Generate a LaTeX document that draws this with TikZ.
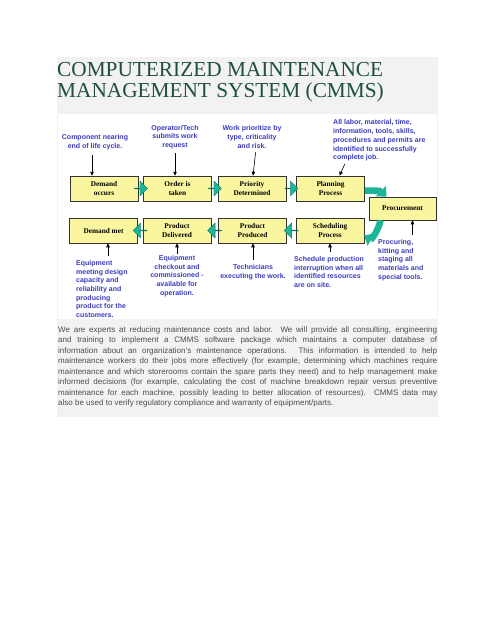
\documentclass[tikz,border=0pt]{standalone}
\usepackage{fontspec}
\setmainfont{Liberation Serif}
\setsansfont{Liberation Sans}
\usetikzlibrary{arrows.meta, positioning, shapes.arrows, calc}

\definecolor{titlegreen}{HTML}{1F4F3F}
\definecolor{boxyellow}{HTML}{FAF6A0}
\definecolor{flowteal}{HTML}{1DB597}
\definecolor{noteblue}{HTML}{3B3BC4}
\definecolor{bodygray}{HTML}{4D4D4D}
\definecolor{pagegray}{HTML}{F2F2F2}

\begin{document}
\begin{tikzpicture}[
        x=1pt, y=-1pt,
        stagebox/.style={
            rectangle, draw=black!80, line width=0.5pt, fill=boxyellow,
            minimum width=68pt, minimum height=25pt, inner sep=1pt,
            align=center, font=\rmfamily\bfseries\fontsize{7.3}{9}\selectfont
        },
        note/.style={
            align=center, text=noteblue, inner sep=0pt,
            font=\sffamily\bfseries\fontsize{7}{8.7}\selectfont
        },
        noteleft/.style={note, align=left},
        pointer/.style={-{Triangle[length=4pt, width=3.5pt]}, line width=0.6pt, black},
        flowright/.style={
            single arrow, draw=flowteal!60!black, fill=flowteal, line width=0.4pt,
            minimum height=13pt, minimum width=15pt,
            single arrow head extend=3.5pt, inner sep=0pt
        },
        flowleft/.style={flowright, minimum height=14pt, shape border rotate=180},
        bendflow/.style={-{Triangle[length=8pt, width=14pt]}, line width=6.5pt, flowteal},
    ]

    % page and picture backgrounds
    \useasboundingbox (0,0) rectangle (495,640);
    \fill[pagegray] (57,57) rectangle (438,417);
    \fill[white] (58,114) rectangle (437,319);

    \node (title) [anchor=north west, inner sep=0pt, align=left, text=titlegreen,
                   font=\fontsize{21.3}{21}\selectfont] at (57,62)
          {COMPUTERIZED MAINTENANCE\\MANAGEMENT SYSTEM (CMMS)};

    % stages, top row
    \node (occurs)   [stagebox] at (104,188.5)        {Demand\\occurs};
    \node (taken)    [stagebox, right=5pt of occurs]  {Order is\\taken};
    \node (priority) [stagebox, right=6pt of taken]   {Priority\\Determined};
    \node (planning) [stagebox, right=10pt of priority] {Planning\\Process};
    \node (procure)  [stagebox, minimum width=67pt, minimum height=23pt] at (402.5,208.5) {Procurement};

    % stages, bottom row
    \node (met)        [stagebox] at (103.5,230.5)          {Demand met};
    \node (delivered)  [stagebox, right=5pt of met]         {Product\\Delivered};
    \node (produced)   [stagebox, right=7pt of delivered]   {Product\\Produced};
    \node (scheduling) [stagebox, right=9pt of produced]    {Scheduling\\Process};

    % flow arrows
    \node (f1) [flowright] at ($(occurs.east)!.5!(taken.west)$)      {};
    \node (f2) [flowright] at ($(taken.east)!.5!(priority.west)$)    {};
    \node (f3) [flowright] at ($(priority.east)!.5!(planning.west)$) {};
    \node (f4) [flowleft]  at ($(met.east)!.5!(delivered.west)$)     {};
    \node (f5) [flowleft]  at ($(delivered.east)!.5!(produced.west)$) {};
    \node (f6) [flowleft]  at ($(produced.east)!.5!(scheduling.west)$) {};
    \draw [bendflow] ([yshift=-2pt]planning.east) to[out=0, in=135] ([xshift=-16pt]procure.north);
    \draw [bendflow] ([xshift=-22pt]procure.south) to[out=-100, in=-30] ([yshift=-5pt]scheduling.east);

    % notes above
    \node (n1) [note] at (95,142.5)  {Component nearing\\end of life cycle.};
    \node (n2) [note] at (175,137)   {Operator/Tech\\submits work\\request};
    \node (n3) [note] at (252,137)   {Work prioritize by\\type, criticality\\and risk.};
    \node (n4) [noteleft, anchor=west] at (333,140.5)
          {All labor, material, time,\\information, tools, skills,\\procedures and permits are\\identified to successfully\\complete job.};

    % notes below
    \node (n5) [noteleft, anchor=west] at (76,289)
          {Equipment\\meeting design\\capacity and\\reliability and\\producing\\product for the\\customers.};
    \node (n6) [note] at (177,276) {Equipment\\checkout and\\commissioned -\\available for\\operation.};
    \node (n7) [note] at (253,272) {Technicians\\executing the work.};
    \node (n8) [noteleft, anchor=west] at (294,272)
          {Schedule production\\interruption when all\\identified resources\\are on site.};
    \node (n9) [noteleft, anchor=west] at (378,260)
          {Procuring,\\kitting and\\staging all\\materials and\\special tools.};

    \draw [pointer, shorten <=5pt] ([xshift=-12pt]occurs.north |- n1.south) -- ([xshift=-12pt]occurs.north);
    \draw [pointer, shorten <=4pt] (n2.south) -- (n2.south |- taken.north);
    \draw [pointer, shorten <=4pt] ([xshift=4pt]n3.south) -- ([xshift=1pt]priority.north);
    \draw [pointer, shorten <=3pt] ([xshift=13pt]n4.south west) -- ([xshift=9pt]planning.north);
    \draw [pointer, shorten <=4pt] ([xshift=4.5pt]met.south |- n5.north) -- ([xshift=4.5pt]met.south);
    \draw [pointer, shorten <=1pt] (n6.north) -- (n6.north |- delivered.south);
    \draw [pointer, shorten <=4pt] (n7.north) -- (n7.north |- produced.south);
    \draw [pointer, shorten <=4pt] (scheduling.south |- n8.north) -- (scheduling.south);
    \draw [pointer, shorten <=4pt] ([xshift=10pt]procure.south |- n9.north) -- ([xshift=10pt]procure.south);

    % description
    \node (body) [anchor=north west, text width=379pt, align=justify, inner sep=0pt,
                  text=bodygray, font=\sffamily\fontsize{8}{10.5}\selectfont] at (58,326)
          {We are experts at reducing maintenance costs and labor.\ \ We will provide all consulting, engineering\linebreak
           and training to implement a CMMS software package which maintains a computer database of\linebreak
           information about an organization’s maintenance operations. This information is intended to help\linebreak
           maintenance workers do their jobs more effectively (for example, determining which machines require\linebreak
           maintenance and which storerooms contain the spare parts they need) and to help management make\linebreak
           informed decisions (for example, calculating the cost of machine breakdown repair versus preventive\linebreak
           maintenance for each machine, possibly leading to better allocation of resources). CMMS data may\linebreak
           also be used to verify regulatory compliance and warranty of equipment/parts.};

\end{tikzpicture}
\end{document}
